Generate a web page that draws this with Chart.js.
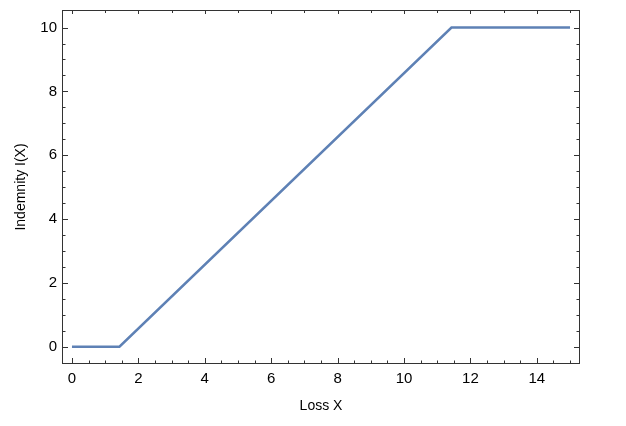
<!DOCTYPE html>
<html>
<head>
<meta charset="utf-8">
<script src="https://cdn.jsdelivr.net/npm/chart.js@4"></script>
<style>
  html, body { margin: 0; padding: 0; background: #fff; }
  #wrap { width: 626px; height: 426px; }
</style>
</head>
<body>
<div id="wrap"><canvas id="myChart" width="626" height="426"></canvas></div>
<script>
// indemnity with deductible ~1.43 and limit 10
const lossX = [0, 1.43, 11.43, 15];
const indemnity = [0, 0, 10, 10];
const xTickValues = [0, 2, 4, 6, 8, 10, 12, 14];
const yTickValues = [0, 2, 4, 6, 8, 10];

const frameColor = '#333333';
const lineColor = 'rgb(94,129,181)';

//draws the frame box and the inward ticks Mathematica-style
const frameTicks = {
	id: 'frameTicks',
	afterDraw(chart) {
		const ctx = chart.ctx;
		const area = chart.chartArea;
		const xs = chart.scales.x;
		const ys = chart.scales.y;
		ctx.save();
		ctx.strokeStyle = frameColor;
		ctx.lineWidth = 1;
		ctx.strokeRect(area.left + 0.5, area.top + 0.5, area.right - area.left - 1, area.bottom - area.top - 1);

		ctx.beginPath();
		for (let v = 0; v <= 15; v += 0.5) {
			const px = Math.round(xs.getPixelForValue(v)) + 0.5;
			const major = v % 2 === 0;
			const len = major ? 6 : 3.5;
			ctx.moveTo(px, area.bottom);
			ctx.lineTo(px, area.bottom - len);
			if (v % 1 === 0) {
				ctx.moveTo(px, area.top);
				ctx.lineTo(px, area.top + (major ? 4 : 3));
			}
		}
		for (let v = 0; v <= 10; v += 0.5) {
			const py = Math.round(ys.getPixelForValue(v)) + 0.5;
			const major = v % 2 === 0;
			const len = major ? 6 : 3.5;
			ctx.moveTo(area.left, py);
			ctx.lineTo(area.left + len, py);
			ctx.moveTo(area.right, py);
			ctx.lineTo(area.right - len, py);
		}
		ctx.stroke();
		ctx.restore();
	}
};

const myChart = document.getElementById('myChart').getContext('2d');
const lineChart = new Chart(myChart, {
	type: 'line',
	data: {
		datasets: [{
			label: 'I(X)',
			data: lossX.map((x, i) => ({ x: x, y: indemnity[i] })),
			borderColor: lineColor,
			borderWidth: 2.5,
			pointRadius: 0,
			tension: 0,
			fill: false
		}]
	},
	options: {
		responsive: false,
		animation: false,
		layout: { padding: { top: 10, right: 46, left: 9, bottom: 0 } },
		plugins: { legend: { display: false }, tooltip: { enabled: false } },
		scales: {
			x: {
				type: 'linear',
				min: -0.3,
				max: 15.3,
				afterBuildTicks: s => { s.ticks = xTickValues.map(v => ({ value: v })); },
				afterFit: s => { s.height = 62; s.paddingLeft = 0; s.paddingRight = 0; },
				grid: { display: false, drawTicks: false },
				border: { display: false },
				ticks: { color: '#000', padding: 6, font: { family: 'Liberation Sans, Arial', size: 15 } },
				title: { display: true, text: 'Loss X', color: '#000', padding: { top: 2, bottom: 11 }, font: { family: 'Liberation Sans, Arial', size: 14 } }
			},
			y: {
				type: 'linear',
				min: -0.54,
				max: 10.55,
				afterBuildTicks: s => { s.ticks = yTickValues.map(v => ({ value: v })); },
				afterFit: s => { s.width = 53; s.paddingTop = 0; s.paddingBottom = 0; },
				grid: { display: false, drawTicks: false },
				border: { display: false },
				ticks: { color: '#000', padding: 5, font: { family: 'Liberation Sans, Arial', size: 15 } },
				title: { display: true, text: 'Indemnity I(X)', color: '#000', padding: { bottom: 4 }, font: { family: 'Liberation Sans, Arial', size: 14 } }
			}
		}
	},
	plugins: [frameTicks]
});
</script>
</body>
</html>
